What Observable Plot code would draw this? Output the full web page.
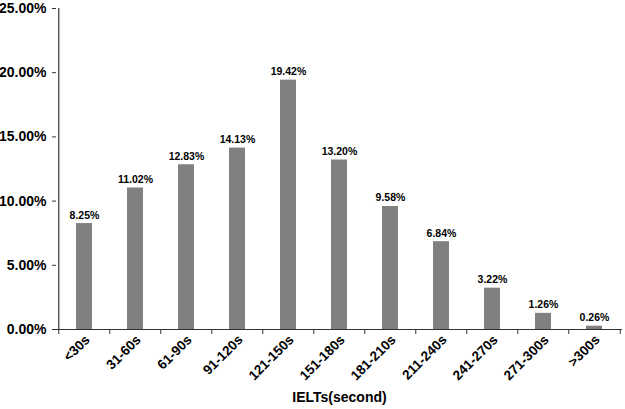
<!DOCTYPE html>
<html>
<head>
<meta charset="utf-8">
<script src="https://cdn.jsdelivr.net/npm/d3@7"></script>
<script src="https://cdn.jsdelivr.net/npm/@observablehq/plot@0.6"></script>
<style>
  html, body { margin: 0; padding: 0; background: #fff; }
</style>
</head>
<body>
<div id="chart"></div>
<script>
const categories = ["<30s", "31-60s", "61-90s", "91-120s", "121-150s", "151-180s", "181-210s", "211-240s", "241-270s", "271-300s", ">300s"];
const values = [8.25, 11.02, 12.83, 14.13, 19.42, 13.20, 9.58, 6.84, 3.22, 1.26, 0.26];
const yTicks = [0, 5, 10, 15, 20, 25];
const xTitle = "IELTs(second)";

const data = categories.map((c, i) => ({cat: c, value: values[i]}));

const W = 625, H = 409, ML = 56, MR = 3, MT = 8, MB = 80;
const step = (W - ML - MR) / categories.length;
const pct = d => d.toFixed(2) + "%";
const font = "'Liberation Sans', Arial, Helvetica, sans-serif";

const chart = Plot.plot({
  width: W,
  height: H,
  marginLeft: ML,
  marginRight: MR,
  marginTop: MT,
  marginBottom: MB,
  style: {fontFamily: font, background: "#fff", color: "#000"},
  x: {domain: categories, paddingInner: 0.69, paddingOuter: 0.345},
  y: {domain: [0, 25]},
  marks: [
    Plot.barY(data, {x: "cat", y: "value", fill: "#808080"}),
    Plot.text(data, {x: "cat", y: "value", text: d => pct(d.value), dy: -5, lineAnchor: "bottom", fontSize: 10.5, fontWeight: "bold", fill: "#000"}),
    Plot.ruleY([0], {stroke: "#333", strokeWidth: 1.2}),
    Plot.ruleX([categories[0]], {x: d => d, y1: 0, y2: 25, dx: -step / 2, stroke: "#333", strokeWidth: 1.2}),
    Plot.axisY({ticks: yTicks, tickFormat: pct, tickSize: 4, tickPadding: 6, fontSize: 14, fontWeight: "bold", label: null, stroke: "#333"}),
    Plot.axisX({tickFormat: () => "", tickSize: 5, dx: -step / 2, label: null, stroke: "#333"}),
    Plot.axisX([categories[categories.length - 1]], {tickFormat: () => "", tickSize: 5, dx: step / 2, label: null, stroke: "#333"}),
    Plot.axisX({tickSize: 0, tickRotate: -45, tickPadding: 8, dx: 3, fontSize: 13.5, fontWeight: "bold", fill: "#000", label: null}),
    Plot.text([xTitle], {frameAnchor: "bottom", dy: 72, fontSize: 14, fontWeight: "bold", fill: "#000"})
  ]
});
document.getElementById("chart").appendChild(chart);
</script>
</body>
</html>
